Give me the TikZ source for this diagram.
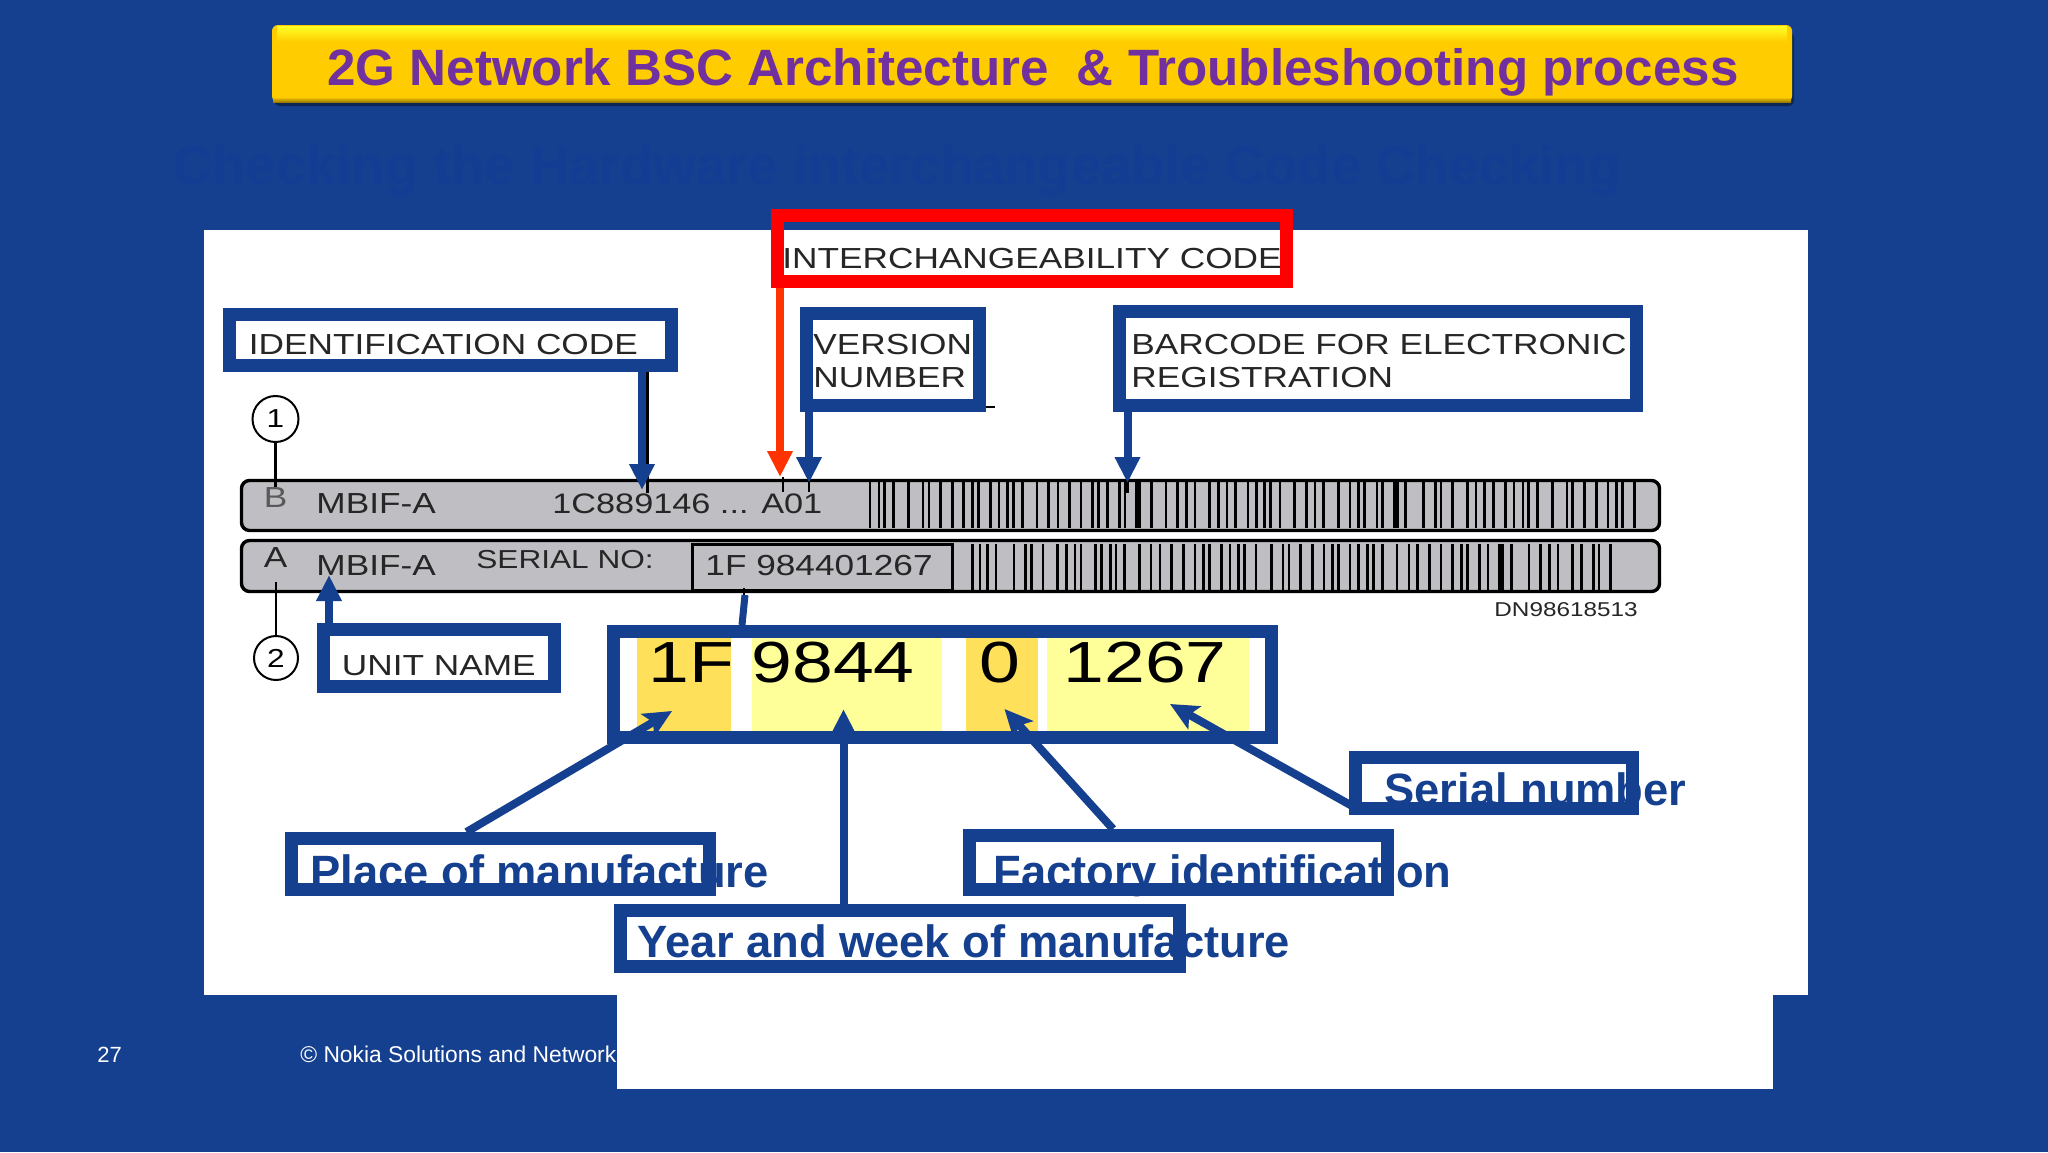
\documentclass[tikz,border=0pt]{standalone}
\usepackage{fontspec}
\setmainfont{Liberation Sans}
\newfontfamily\labelfam[FakeStretch=1.215]{Liberation Sans}
\newfontfamily\digitfam[FakeStretch=1.265]{Liberation Sans}
\usetikzlibrary{arrows.meta}
\newcommand\pxu{0.5pt}
\definecolor{nokiablue}{HTML}{15408F}
\definecolor{ghostblue}{HTML}{133D93}
\definecolor{titlegold}{HTML}{FFCC00}
\definecolor{titlepurple}{HTML}{7030A0}
\definecolor{stripgray}{HTML}{BFBEC3}
\definecolor{patchorange}{HTML}{FFE05A}
\definecolor{patchpale}{HTML}{FFFF99}
\definecolor{wirered}{HTML}{FF3300}
\tikzset{
  labelbox/.style n args={2}{draw=nokiablue, line width=6.5pt, minimum width=#1*\pxu, minimum height=#2*\pxu, inner sep=0pt},
  stripbox/.style={draw=black, fill=stripgray, line width=1.7pt, rounded corners=4pt, minimum width=1418*\pxu, inner sep=0pt},
  smalltxt/.style={inner sep=0pt, anchor=base west, text=black!85, font=\labelfam\fontsize{14.5}{16.5}\selectfont},
  calltxt/.style={inner sep=0pt, anchor=base west, text=nokiablue, font=\bfseries\fontsize{22.65}{27}\selectfont},
  digittxt/.style={inner sep=0pt, anchor=base west, text=black, font=\digitfam\fontsize{29}{33}\selectfont},
  bluewire/.style={draw=nokiablue, line width=4pt, -{Triangle[length=13pt, width=12pt]}},
  slantwire/.style={draw=nokiablue, line width=4pt, -{Stealth[length=14pt, width=13pt, inset=3pt]}},
  leader/.style={draw=black, line width=1.2pt},
  barline/.style={draw=black, line width=1.4pt}
}
\begin{document}
\begin{tikzpicture}[x=0.5pt, y=-0.5pt]
\fill [nokiablue] (0,0) rectangle (2048,1152);

\fill [black!40!nokiablue, rounded corners=3pt] (274,32) rectangle (1794,106);
\node [fill=titlegold, rounded corners=3pt, minimum width=1520*\pxu, minimum height=77*\pxu, inner sep=0pt] (titlebar) at (1032,63.5) {};
\shade [top color=yellow!85!white, bottom color=titlegold] (277,26) rectangle (1787,42);
\shade [top color=titlegold, bottom color=titlegold!60!black] (273,97) rectangle (1791,102);
\node [inner sep=0pt, anchor=base west, text=titlepurple, font=\bfseries\fontsize{25.55}{30}\selectfont] (titletxt) at (327,85) {2G Network BSC Architecture\ \ \& Troubleshooting process};
\node [inner sep=0pt, anchor=base west, text=ghostblue, font=\bfseries\fontsize{27.2}{31}\selectfont] (ghosttxt) at (173,184) {Checking the Hardware interchangeable Code Checking};

\node [inner sep=0pt, anchor=base west, text=white, font=\fontsize{11}{13}\selectfont] (pagenum) at (97,1062) {27};
\node [inner sep=0pt, anchor=base west, text=white, font=\fontsize{11.4}{13}\selectfont] (copytxt) at (300,1062) {© Nokia Solutions and Network};

\fill [white] (204,230) rectangle (1808,995);
\fill [white] (617,995) rectangle (1773,1089);

\node [stripbox, minimum height=50*\pxu] (stripB) at (950.5,505.5) {};
\node [stripbox, minimum height=51*\pxu] (stripA) at (950.5,566) {};

\foreach \xb in {870,879,884.3,893.3,908.7,923,929,940.3,952.3,963.7,972.3,978.3,990.7,999,1007.7,1013.7,1022.3,1037,1048.7,1058,1069.3,1081,1092.7,1098.7,1107.3,1119.3,1125,1151.3,1166,1177.7,1186.3,1195,1209.7,1218.3,1227,1235.7,1248,1256.7,1264.7,1270.3,1280,1294.7,1306.3,1315,1323.7,1338.3,1350,1358.7,1364.7,1377,1382.3,1405.7,1423.3,1435.3,1441,1452.7,1467.3,1476,1484.7,1493.7,1505.3,1514,1523,1528.7,1537.7,1552.3,1567,1572.7,1584.7,1596.3,1608,1616.7,1622.7,1634.3}
  \draw [barline] (\xb,482) -- (\xb,528);
\foreach \xb in {972.7,980,987.3,996,1014,1025.7,1031.7,1043,1057.7,1066.3,1075,1081,1095.7,1101.3,1110.3,1116,1124.7,1139.3,1151,1160,1171.7,1183.3,1195,1203.7,1209.7,1221.3,1230,1238.7,1244.7,1256,1271.3,1283,1289,1300.7,1312.3,1324,1332.7,1338.3,1350,1358.7,1367.7,1373.7,1382.3,1397,1409,1417.7,1429.3,1441,1452.7,1461.3,1467.3,1479.3,1488,1511.3,1529,1540.7,1549.3,1558,1572.7,1581.7,1593.3,1599,1610.7}
  \draw [barline] (\xb,544) -- (\xb,590);
\foreach \xb in {1138.3,1395.7}
  \draw [barline, line width=3pt] (\xb,482) -- (\xb,528);
\draw [barline, line width=3pt] (1501,544) -- (1501,590);

\node [draw=black, line width=1.5pt, minimum width=260*\pxu, minimum height=46*\pxu, inner sep=0pt] (serialbox) at (822.5,567.5) {};

\node [smalltxt, text=black!65] (letterB) at (263.5,507) {B};
\node [smalltxt] (letterA) at (263.5,567) {A};
\node [smalltxt] (unitB) at (316,513) {MBIF-A};
\node [smalltxt] (unitA) at (316,575) {MBIF-A};
\node [smalltxt, font=\labelfam\fontsize{14.1}{16}\selectfont] (codeB) at (552,513) {1C889146 ... A01};
\node [smalltxt, font=\labelfam\fontsize{13}{15}\selectfont] (serialtxt) at (476,568) {SERIAL NO:};
\node [smalltxt] (serialval) at (705,575) {1F 984401267};
\node [smalltxt, font=\labelfam\fontsize{10}{12}\selectfont] (dntxt) at (1494,616) {DN98618513};

\node [draw=black, circle, line width=1pt, minimum size=46*\pxu, inner sep=0pt, font=\labelfam\fontsize{13}{15}\selectfont] (circA) at (275.5,419) {1};
\node [draw=black, circle, line width=1pt, minimum size=44*\pxu, inner sep=0pt, font=\labelfam\fontsize{13}{15}\selectfont] (circB) at (276,658) {2};
\draw [leader] (circA.south) -- (circA.south |- letterB.north);
\draw [leader, shorten <=7.5pt] (circB.north |- letterA.south) -- (circB.north);

\fill [patchorange] (637,638) rectangle (731,732);
\fill [patchpale] (752,638) rectangle (942,732);
\fill [patchorange] (966,638) rectangle (1038,732);
\fill [patchpale] (1047,638) rectangle (1249,732);
\node [digittxt] (digitsA) at (648,682) {1F};
\node [digittxt] (digitsB) at (751,682) {9844};
\node [digittxt] (digitsC) at (979,682) {0};
\node [digittxt] (digitsD) at (1063,682) {1267};

\node [smalltxt] (interchtxt) at (782,268) {INTERCHANGEABILITY CODE};
\node [smalltxt] (idtxt) at (248.5,354) {IDENTIFICATION CODE};
\node [smalltxt, align=left] (versiontxt) at (813,387) {VERSION\\NUMBER};
\node [smalltxt, align=left] (barcodetxt) at (1131,387) {BARCODE FOR ELECTRONIC\\REGISTRATION};
\node [smalltxt] (unittxt) at (341.5,675) {UNIT NAME};
\node [calltxt] (placetxt) at (310,887) {Place of manufacture};
\node [calltxt] (factorytxt) at (993,887) {Factory identification};
\node [calltxt] (yeartxt) at (637.5,957) {Year and week of manufacture};
\node [calltxt] (numbertxt) at (1384,805) {Serial number};

\node [labelbox={509}{66}, draw=red] (interchbox) at (1032,248.5) {};
\node [labelbox={442}{51}] (idbox) at (450.5,340) {};
\node [labelbox={173}{92}] (versionbox) at (893,359.5) {};
\node [labelbox={517}{94}] (barcodebox) at (1378,358.5) {};
\node [labelbox={231}{57}] (unitbox) at (439,658) {};
\node [labelbox={658}{106}] (digitbox) at (942.5,684.5) {};
\node [labelbox={418}{51}] (placebox) at (500.5,864) {};
\node [labelbox={418}{54}] (factorybox) at (1178.5,862.5) {};
\node [labelbox={559}{56}] (yearbox) at (900,938.5) {};
\node [labelbox={277}{51}] (numberbox) at (1494,783) {};

\coordinate (idend) at (647.5,493);
\coordinate (redend) at (783,492);
\coordinate (verend) at (809,492);
\coordinate (barend) at (1127.5,493);
\draw [leader] (idbox.south -| idend) -- (idend);
\draw [leader] (783,477) -- (redend);
\draw [leader] (809,470) -- (verend);
\draw [leader] (1127.5,470) -- (barend);
\draw [leader] (versionbox.south east) ++(0,-5) -- ++(9,0);
\draw [leader] (serialbox.south west) ++(53,-4) -- ++(0,7);

\coordinate (idtip) at (642,490);
\coordinate (redtip) at (780,477);
\coordinate (vertip) at (809,483);
\coordinate (bartip) at (1127.5,483);
\coordinate (unittip) at (329,575);
\coordinate (placetip) at (672,711);
\coordinate (yeartip) at (843.5,709);
\coordinate (factorytip) at (1004.5,709);
\coordinate (numbertip) at (1170,704);
\coordinate (stubend) at (742,625);
\draw [bluewire] (idbox.south -| idtip) -- (idtip);
\draw [bluewire, draw=wirered] (interchbox.south -| redtip) -- (redtip);
\draw [bluewire] (versionbox.south -| vertip) -- (vertip);
\draw [bluewire] (barcodebox.south -| bartip) -- (bartip);
\draw [bluewire] (unitbox.north -| unittip) -- (unittip);
\draw [bluewire] (yearbox.north -| yeartip) -- (yeartip);
\draw [slantwire] (placebox.north west) ++(181.5,0) -- (placetip);
\draw [slantwire] (factorybox.north west) ++(150,0) -- (factorytip);
\draw [slantwire] (numberbox.south west) ++(5,-8) -- (numbertip);
\draw [draw=nokiablue, line width=3.5pt] (serialbox.south west) ++(54,3) -- (stubend);
\end{tikzpicture}
\end{document}
